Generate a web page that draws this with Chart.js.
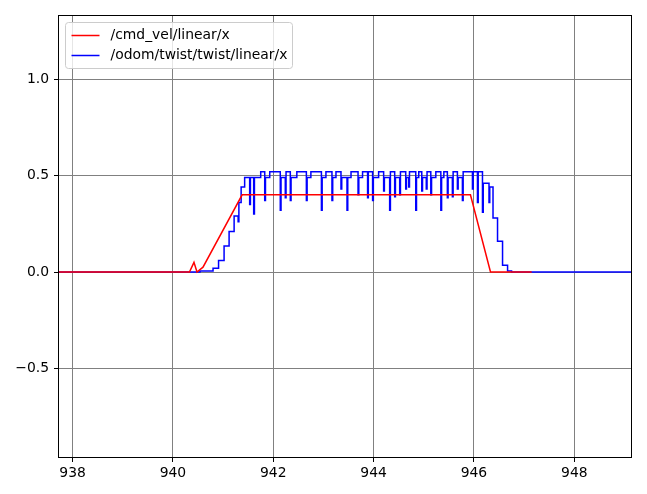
<!DOCTYPE html>
<html>
<head>
<meta charset="utf-8">
<script src="https://cdn.jsdelivr.net/npm/chart.js@4/dist/chart.umd.min.js"></script>
<style>
  html, body { margin: 0; padding: 0; background: #fff; }
  #canvas1 { display: block; }
</style>
</head>
<body>
<canvas id="canvas1" width="647" height="494"></canvas>
<script>
// /cmd_vel/linear/x
var cmdT = [937.7, 940.33, 940.42, 940.48, 940.60, 941.38, 945.93, 946.33, 947.15];
var cmdV = [0, 0, 0.05, 0, 0.025, 0.4, 0.4, 0, 0];

// /odom/twist/twist/linear/x : time, level after the sample, short dip at the sample (null = none)
var odomT = [937.7, 940.54, 940.80, 940.91, 941.02, 941.12, 941.22, 941.30, 941.36, 941.43,
             941.53, 941.61, 941.75, 941.83, 941.93, 942.14, 942.24, 942.34, 942.47, 942.66,
             942.75, 942.96, 943.05, 943.17, 943.25, 943.35, 943.47, 943.55, 943.69, 943.78,
             943.88, 943.98, 944.10, 944.20, 944.32, 944.42, 944.52, 944.64, 944.70, 944.84,
             944.90, 944.96, 945.05, 945.14, 945.24, 945.34, 945.40, 945.47, 945.57, 945.67,
             945.77, 945.97, 946.07, 946.17, 946.30, 946.38, 946.47, 946.57, 946.67, 946.75, 949.2];
var odomV = [0, 0.005, 0.02, 0.06, 0.135, 0.21, 0.29, 0.36, 0.44, 0.49,
             0.49, 0.49, 0.52, 0.49, 0.52, 0.49, 0.52, 0.49, 0.52, 0.49,
             0.52, 0.49, 0.52, 0.49, 0.52, 0.49, 0.49, 0.52, 0.49, 0.52,
             0.52, 0.49, 0.52, 0.49, 0.52, 0.49, 0.52, 0.49, 0.52, 0.49,
             0.52, 0.49, 0.52, 0.49, 0.52, 0.49, 0.52, 0.49, 0.52, 0.49,
             0.52, 0.52, 0.52, 0.46, 0.44, 0.28, 0.16, 0.035, 0.005, 0, 0];
var odomDip = [null, null, null, null, null, null, null, 0.26, null, null,
               0.35, 0.30, null, 0.37, null, 0.32, 0.385, 0.37, null, 0.37,
               null, 0.32, null, 0.37, null, 0.43, 0.32, null, 0.40, null,
               0.385, 0.37, null, 0.42, 0.32, 0.39, 0.40, 0.43, 0.44, 0.32,
               null, 0.42, 0.43, 0.40, null, 0.32, null, 0.385, 0.39, 0.43,
               0.37, 0.43, 0.36, 0.31, 0.36, null, null, null, null, null, null];

var xTicks = [938, 940, 942, 944, 946, 948];
var yTicks = [-0.5, 0.0, 0.5, 1.0];
var seriesNames = ['/cmd_vel/linear/x', '/odom/twist/twist/linear/x'];
var seriesColors = ['#ff0000', '#0000ff'];

var cmdPts = cmdT.map(function (t, i) { return { x: t, y: cmdV[i] }; });
var odomPts = [];
odomT.forEach(function (t, i) {
    if (odomDip[i] !== null) {
        odomPts.push({ x: t, y: odomDip[i] });
        odomPts.push({ x: t + 0.015, y: odomV[i] });
    } else {
        odomPts.push({ x: t, y: odomV[i] });
    }
});

Chart.defaults.font.family = 'DejaVu Sans';
Chart.defaults.font.size = 13.9;
Chart.defaults.color = '#000';

// black frame round the plot + legend box in the upper left corner
var frameAndLegend = {
    id: 'frameAndLegend',
    afterDraw: function (chart) {
        var c = chart.ctx, a = chart.chartArea;
        c.save();
        c.strokeStyle = '#000';
        c.lineWidth = 1;
        c.strokeRect(Math.round(a.left) + 0.5, Math.round(a.top) + 0.5,
                     Math.round(a.right - a.left) - 1, Math.round(a.bottom - a.top) - 1);

        var bx = a.left + 7.5, by = a.top + 7.5, bw = 227, bh = 46, r = 3;
        c.beginPath();
        c.moveTo(bx + r, by);
        c.arcTo(bx + bw, by, bx + bw, by + bh, r);
        c.arcTo(bx + bw, by + bh, bx, by + bh, r);
        c.arcTo(bx, by + bh, bx, by, r);
        c.arcTo(bx, by, bx + bw, by, r);
        c.closePath();
        c.fillStyle = 'rgba(255,255,255,0.8)';
        c.fill();
        c.strokeStyle = '#cccccc';
        c.stroke();

        c.font = '13.9px "DejaVu Sans"';
        c.textBaseline = 'middle';
        c.fillStyle = '#000';
        seriesNames.forEach(function (name, i) {
            var yy = by + 13 + i * 20;
            c.beginPath();
            c.moveTo(bx + 6, yy);
            c.lineTo(bx + 34, yy);
            c.strokeStyle = seriesColors[i];
            c.lineWidth = 1.5;
            c.stroke();
            c.fillText(name, bx + 45, yy);
        });
        c.restore();
    }
};

var ctx = document.getElementById('canvas1').getContext('2d');
var myChart = new Chart(ctx, {
    type: 'line',
    data: {
        datasets: [{
            label: seriesNames[0],
            data: cmdPts,
            borderColor: seriesColors[0],
            borderWidth: 1.5,
            pointRadius: 0,
            tension: 0
        }, {
            label: seriesNames[1],
            data: odomPts,
            borderColor: seriesColors[1],
            borderWidth: 1.5,
            pointRadius: 0,
            stepped: true
        }]
    },
    options: {
        responsive: false,
        animation: false,
        devicePixelRatio: 1,
        layout: { padding: { left: 0, top: 15, right: 15, bottom: 0 } },
        plugins: { legend: { display: false }, tooltip: { enabled: false } },
        scales: {
            x: {
                type: 'linear',
                min: 937.71,
                max: 949.15,
                afterBuildTicks: function (s) { s.ticks = xTicks.map(function (v) { return { value: v }; }); },
                afterFit: function (s) { s.height = 36; },
                ticks: { padding: 3, maxRotation: 0, callback: function (v) { return String(v); } },
                grid: { color: '#808080', lineWidth: 1, tickColor: '#000', tickLength: 4 },
                border: { display: false }
            },
            y: {
                min: -0.964,
                max: 1.332,
                afterBuildTicks: function (s) { s.ticks = yTicks.map(function (v) { return { value: v }; }); },
                afterFit: function (s) { s.width = 58; },
                ticks: {
                    padding: 5,
                    callback: function (v) { return v.toFixed(1).replace('-', '\u2212'); }
                },
                grid: { color: '#808080', lineWidth: 1, tickColor: '#000', tickLength: 4 },
                border: { display: false }
            }
        }
    },
    plugins: [frameAndLegend]
});
</script>
</body>
</html>
